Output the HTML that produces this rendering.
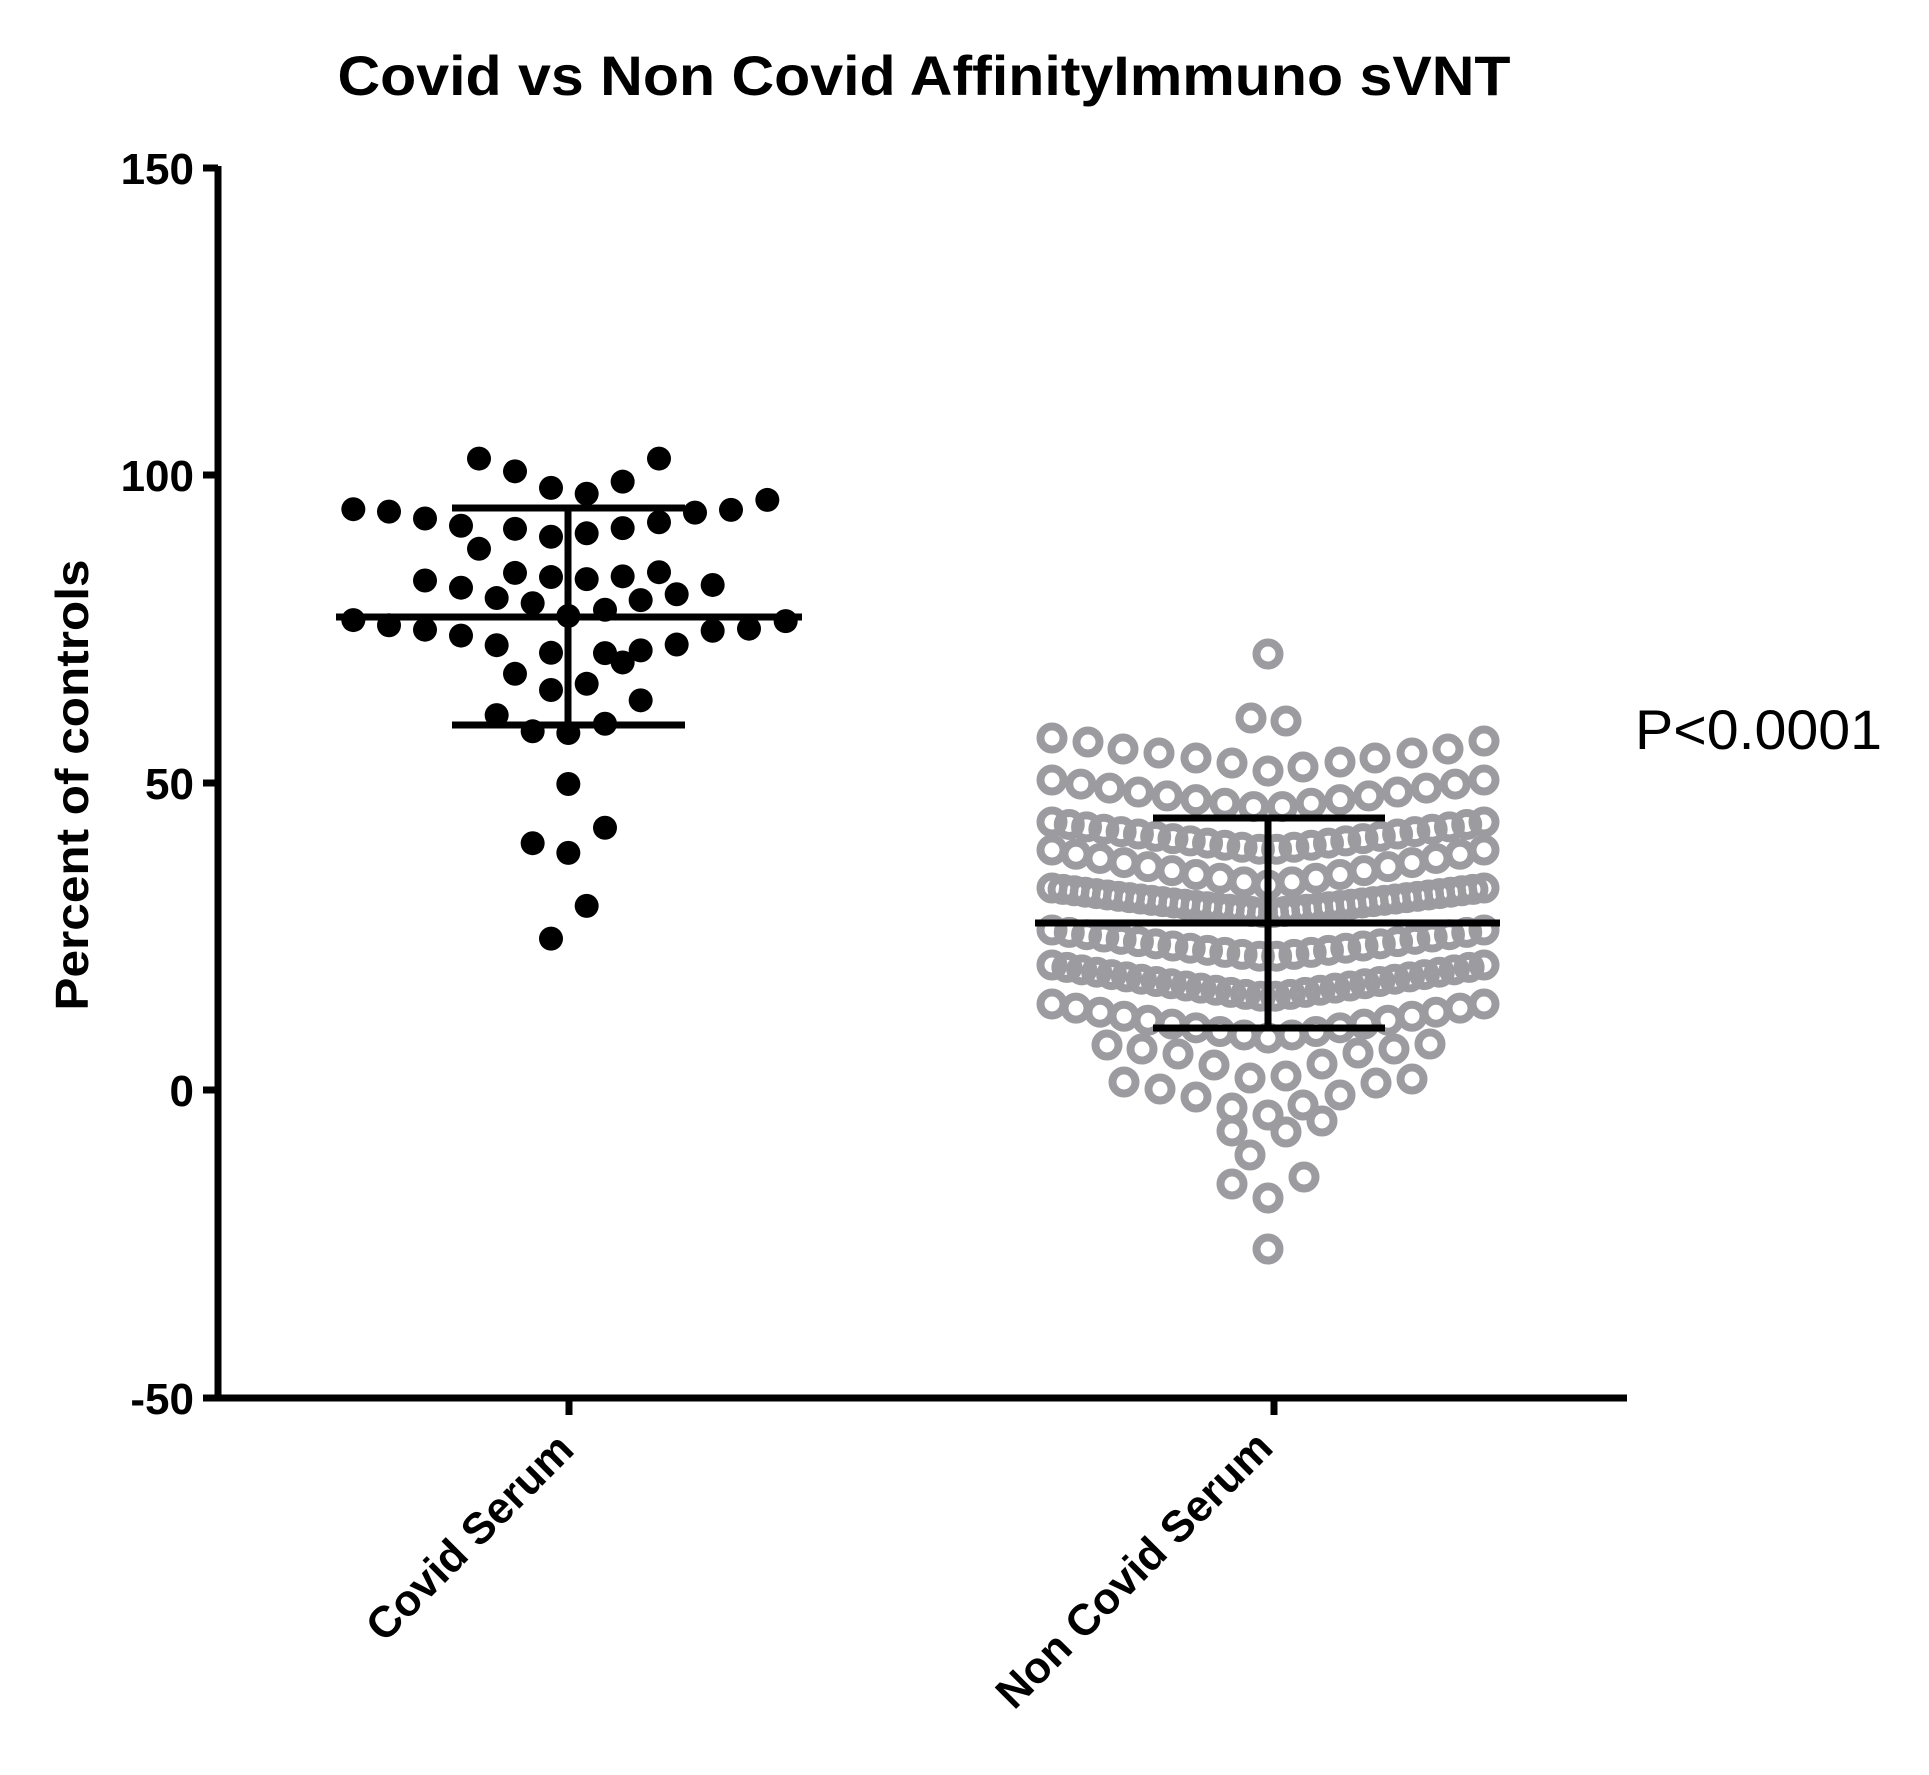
<!DOCTYPE html>
<html><head><meta charset="utf-8"><style>html,body{margin:0;padding:0;background:#fff;}svg{display:block}</style></head>
<body>
<svg id="s" width="1929" height="1775" viewBox="0 0 1929 1775" xmlns="http://www.w3.org/2000/svg" font-family="Liberation Sans, Arial, sans-serif">
<rect width="1929" height="1775" fill="#fff"/>
<text x="924" y="95" font-size="56" font-weight="bold" text-anchor="middle" textLength="1173" lengthAdjust="spacingAndGlyphs">Covid vs Non  Covid  AffinityImmuno sVNT</text>
<g id="grey" fill="none" stroke="#9b9ba0" stroke-width="8"></g>
<g id="black" fill="#000"></g>
<g stroke="#000" stroke-width="7" fill="none">
<line x1="218" y1="166" x2="218" y2="1401"/>
<line x1="215" y1="1398" x2="1627" y2="1398"/>
<line x1="203" y1="168" x2="218" y2="168"/>
<line x1="203" y1="475" x2="218" y2="475"/>
<line x1="203" y1="783" x2="218" y2="783"/>
<line x1="203" y1="1090" x2="218" y2="1090"/>
<line x1="203" y1="1398" x2="218" y2="1398"/>
<line x1="569" y1="1398" x2="569" y2="1415"/>
<line x1="1274" y1="1398" x2="1274" y2="1415"/>
<line x1="568" y1="508" x2="568" y2="725"/>
<line x1="336" y1="617" x2="802" y2="617"/>
<line x1="452" y1="508" x2="685" y2="508"/>
<line x1="452" y1="725" x2="685" y2="725"/>
<line x1="1268" y1="818" x2="1268" y2="1028"/>
<line x1="1035" y1="923" x2="1500" y2="923"/>
<line x1="1153" y1="818" x2="1385" y2="818"/>
<line x1="1153" y1="1028" x2="1385" y2="1028"/>
</g>
<g font-size="44" font-weight="bold" text-anchor="end">
<text x="194" y="184">150</text>
<text x="194" y="491">100</text>
<text x="194" y="799">50</text>
<text x="194" y="1106">0</text>
<text x="194" y="1414">-50</text>
</g>
<text transform="translate(88,785) rotate(-90)" font-size="46" font-weight="bold" text-anchor="middle" textLength="451" lengthAdjust="spacingAndGlyphs">Percent of controls</text>
<text transform="translate(576,1452) rotate(-45)" font-size="44" font-weight="bold" text-anchor="end">Covid Serum</text>
<text transform="translate(1275,1450) rotate(-45)" font-size="44" font-weight="bold" text-anchor="end">Non Covid Serum</text>
<text x="1635" y="749" font-size="56" textLength="247" lengthAdjust="spacingAndGlyphs">P&lt;0.0001</text>
</svg>
<script>
var NS="http://www.w3.org/2000/svg";
function c(g,x,y,r){var e=document.createElementNS(NS,"circle");e.setAttribute("cx",x);e.setAttribute("cy",y);e.setAttribute("r",r);document.getElementById(g).appendChild(e);}
var B=[[537,83],[645,120],[753,168],[860,185],[968,150],[1077,83],[160,230],[267,237],[375,257],[483,278],[645,287],[753,310],[860,300],[968,285],[1077,268],[1185,240],[1293,232],[1402,203],[537,345],[375,437],[483,458],[590,488],[645,415],[753,427],[860,433],[968,425],[1077,413],[1130,477],[1238,450],[698,503],[915,522],[1022,494],[160,552],[267,567],[375,580],[483,597],[590,625],[753,647],[915,648],[968,675],[1022,640],[1130,623],[1238,583],[1347,577],[1457,555],[805,540],[645,708],[753,755],[860,737],[1022,785],[590,828],[698,875],[805,880],[915,853],[805,1028],[698,1200],[805,1228],[915,1155],[860,1382],[753,1477]];
B.forEach(function(p){c("black",300+p[0]/3,430+p[1]/2.904,12);});
var R=11.5;
var G=[[1268,654],[1251,718],[1286,721],[1232,1131],[1286,1132],[1322,1121],[1250,1155],[1232,1184],[1268,1198],[1304,1177],[1268,1249]];
var ax=[1052,1088,1123,1159,1196,1232,1268,1303,1340,1375,1412,1448,1484],ay=[738,742,749,753,758,763,771,767,762,758,753,749,741];
for(var i=0;i<ax.length;i++)G.push([ax[i],ay[i]]);
var bx=[1107,1142,1178,1214,1250,1286,1322,1358,1394,1430],by=[1045,1049,1054,1065,1078,1076,1064,1053,1049,1044];
for(i=0;i<bx.length;i++)G.push([bx[i],by[i]]);
var cx=[1124,1160,1196,1232,1268,1303,1340,1376,1412],cy=[1082,1089,1097,1108,1115,1105,1095,1083,1079];
for(i=0;i<cx.length;i++)G.push([cx[i],cy[i]]);
var rows=[[780,808,29],[822,850,17],[850,885,24],[888,913,11],[930,957,17],[965,997,15],[1004,1038,24]];
rows.forEach(function(r){var n=Math.round(432/r[2]);for(var k=0;k<=n;k++){var x=1052+432*k/n;var t=Math.abs(x-1268)/216;G.push([x,r[1]+(r[0]-r[1])*Math.pow(t,1.1)]);}});
G.forEach(function(p){c("grey",p[0],p[1],R);});
</script>
</body></html>
